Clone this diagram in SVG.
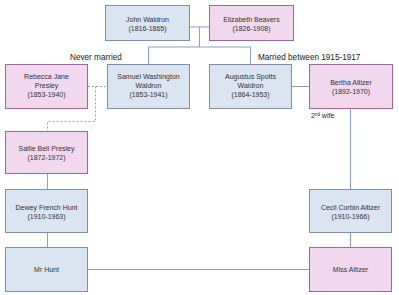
<svg xmlns="http://www.w3.org/2000/svg" width="399" height="295" viewBox="0 0 399 295">
<style>
.m rect{fill:#dbe4f1;stroke:#7f8eab;stroke-width:1}
.f rect{fill:#f1d8ef;stroke:#a0659b;stroke-width:1}
text{font-family:"Liberation Sans",Arial,sans-serif;font-size:7px;fill:#333;text-anchor:middle}
.lbl{font-size:8.2px;text-anchor:start;fill:#222}
.c path{fill:none;stroke:#8c9fcb;stroke-width:1}
.c path.d{stroke-dasharray:2,2}
</style>
<rect width="399" height="295" fill="#fff"/>
<g class="c" id="connectors">
<path d="M190,27H209M199.5,27V47M148.5,47H250.5M148.5,47V64M250.5,47V64"/>
<path d="M292,86.5H309"/>
<path class="d" d="M88,86.5H107M95.5,86.5V121.5H47.5V131"/>
<path d="M47.5,174V189M47.5,233V247"/>
<path d="M350.5,109V189M350.5,233V247"/>
<path d="M88,269.5H309"/>
</g>
<g id="john" class="m"><rect x="105.5" y="5.5" width="84" height="35"/><text x="147.5" y="21.5">John Waldron</text><text x="147.5" y="30.5">(1816-1865)</text></g>
<g id="elizabeth" class="f"><rect x="209.5" y="5.5" width="84" height="35"/><text x="251.5" y="21.5">Elizabeth Beavers</text><text x="251.5" y="30.5">(1826-1908)</text></g>
<g id="rebecca" class="f"><rect x="5.5" y="64.5" width="82" height="44"/><text x="46.5" y="78.5">Rebecca Jane</text><text x="46.5" y="87.5">Presley</text><text x="46.5" y="96.5">(1853-1940)</text></g>
<g id="samuel" class="m"><rect x="107.5" y="64.5" width="82" height="44"/><text x="148.5" y="78.5">Samuel Washington</text><text x="148.5" y="87.5">Waldron</text><text x="148.5" y="96.5">(1853-1941)</text></g>
<g id="augustus" class="m"><rect x="209.5" y="64.5" width="82" height="44"/><text x="250.5" y="78.5">Augustus Spotts</text><text x="250.5" y="87.5">Waldron</text><text x="250.5" y="96.5">(1864-1953)</text></g>
<g id="bertha" class="f"><rect x="309.5" y="64.5" width="83" height="44"/><text x="351" y="85">Bertha Altizer</text><text x="351" y="94">(1892-1970)</text></g>
<g id="sallie" class="f"><rect x="5.5" y="131.5" width="82" height="42"/><text x="46.5" y="151">Sallie Bell Presley</text><text x="46.5" y="160">(1872-1972)</text></g>
<g id="dewey" class="m"><rect x="5.5" y="189.5" width="82" height="43"/><text x="46.5" y="209.5">Dewey French Hunt</text><text x="46.5" y="218.5">(1910-1963)</text></g>
<g id="mrhunt" class="m"><rect x="5.5" y="247.5" width="82" height="44"/><text x="46.5" y="272">Mr Hunt</text></g>
<g id="cecil" class="m"><rect x="309.5" y="189.5" width="82" height="43"/><text x="350.5" y="209.5">Cecil Corbin Altizer</text><text x="350.5" y="218.5">(1910-1966)</text></g>
<g id="missaltizer" class="f"><rect x="309.5" y="247.5" width="82" height="44"/><text x="350.5" y="272">Miss Altizer</text></g>
<text class="lbl" x="70" y="60">Never married</text>
<text class="lbl" x="258" y="60">Married between 1915-1917</text>
<text class="lbl" x="311" y="118" style="font-size:7px">2<tspan font-size="4.5" dy="-2.5">nd</tspan><tspan dy="2.5"> wife</tspan></text>
</svg>
